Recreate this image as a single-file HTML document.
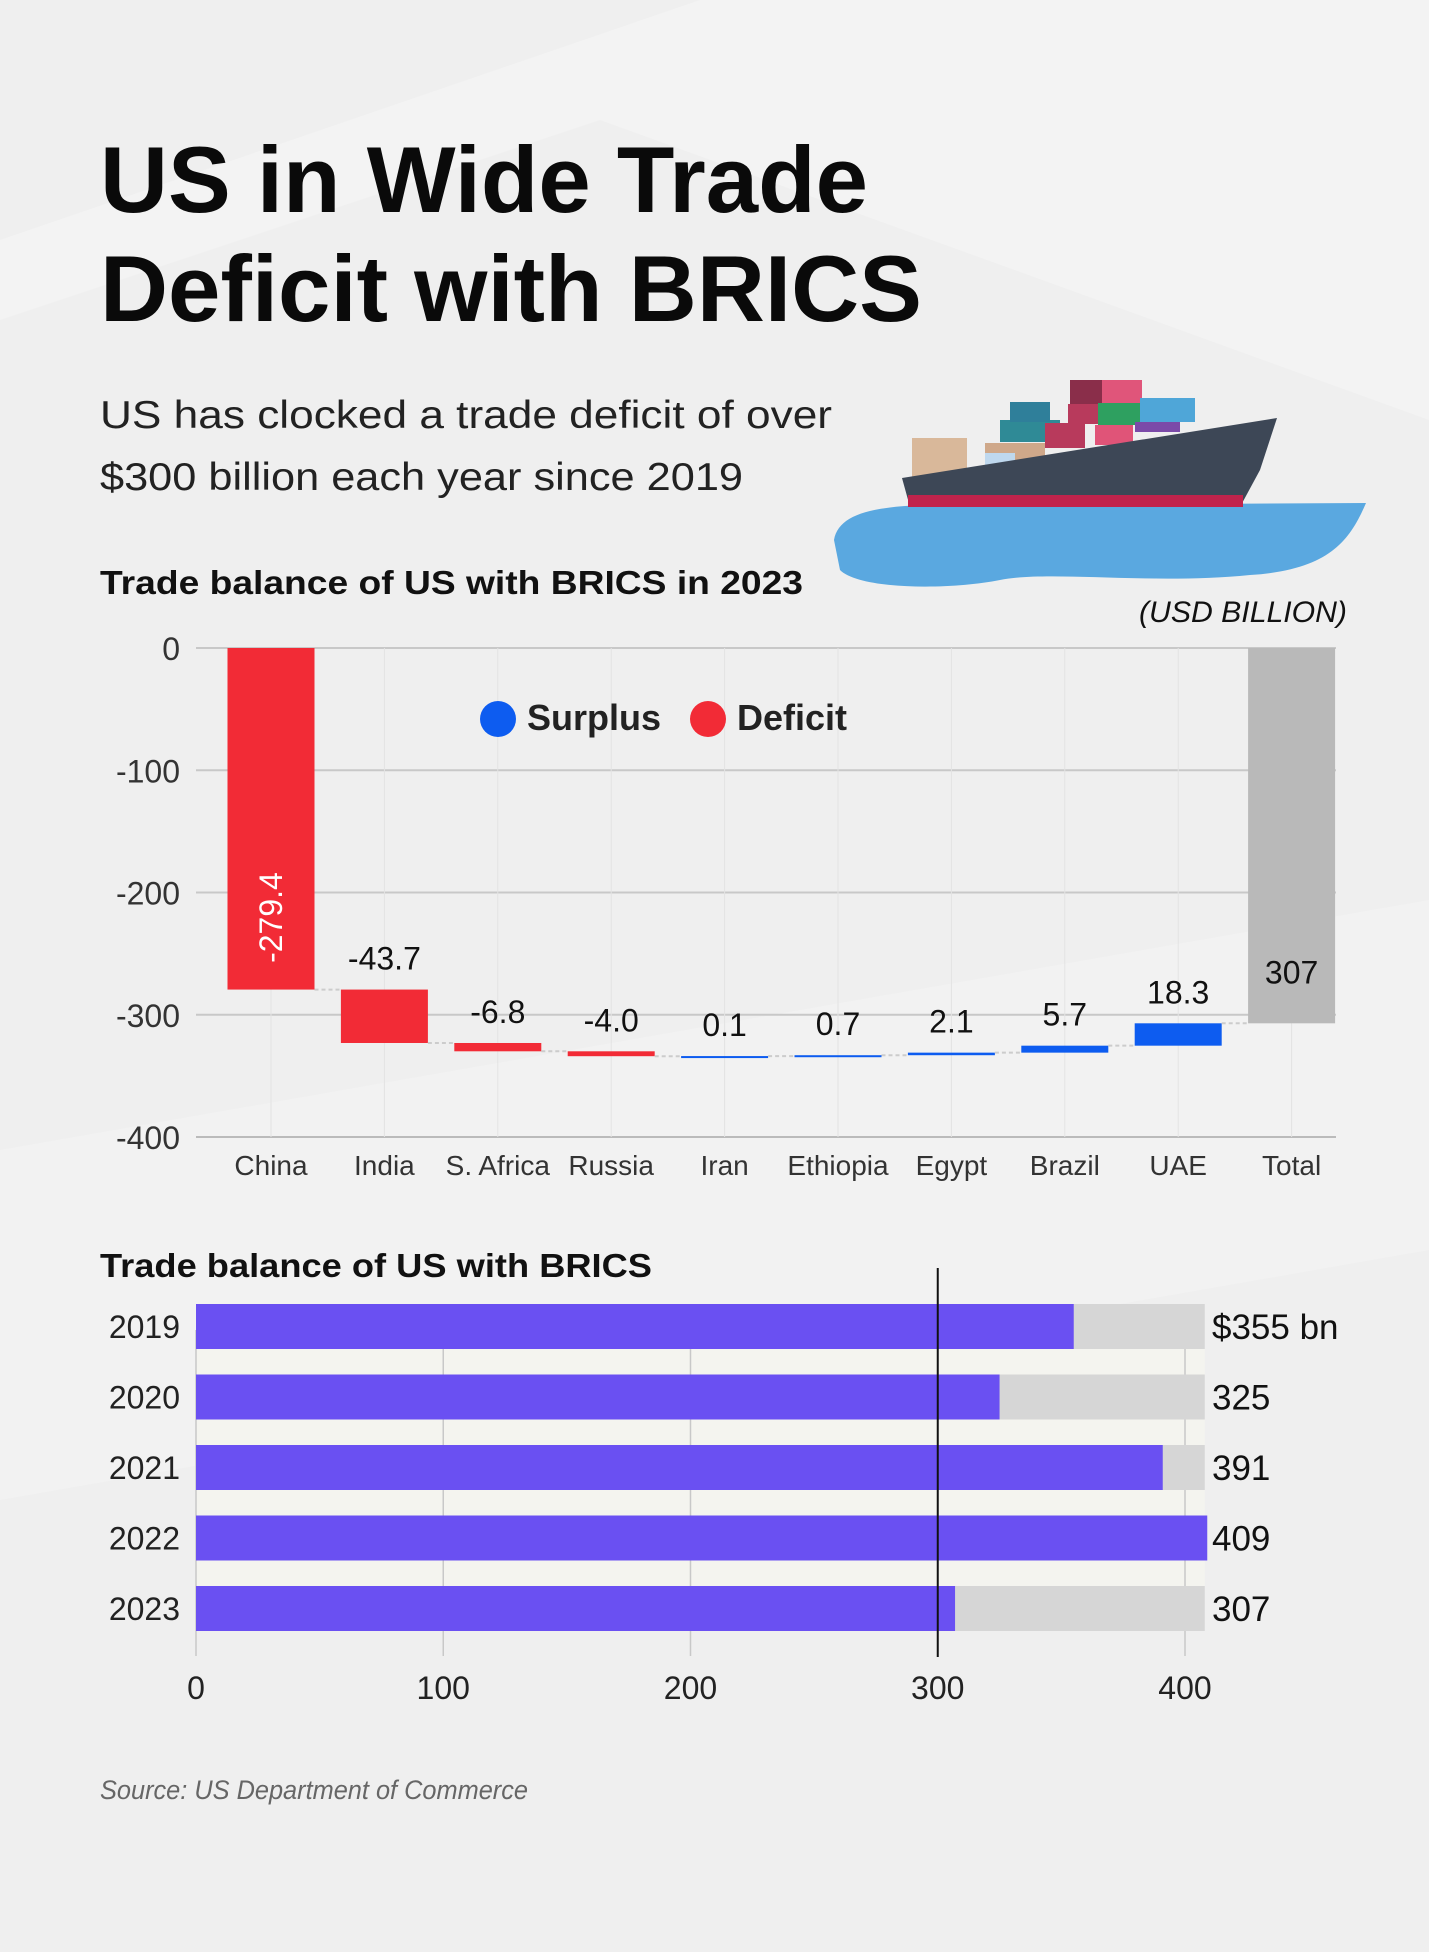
<!DOCTYPE html>
<html><head><meta charset="utf-8"><style>
html,body{margin:0;padding:0;background:#efefef;}
svg{display:block;font-family:"Liberation Sans",sans-serif;}
</style></head><body>
<svg id="root" width="1429" height="1952" viewBox="0 0 1429 1952" xmlns="http://www.w3.org/2000/svg">
<rect width="1429" height="1952" fill="#efefef"/>
<polygon points="0,240 700,0 1429,0 1429,420 600,120 0,320" fill="#f3f3f3"/>
<polygon points="0,1150 1429,900 1429,1250 0,1500" fill="#f2f2f2"/>
<text x="100" y="212" font-size="94" font-weight="bold" fill="#0a0a0a" textLength="768" lengthAdjust="spacingAndGlyphs">US in Wide Trade</text>
<text x="100" y="321" font-size="94" font-weight="bold" fill="#0a0a0a" textLength="822" lengthAdjust="spacingAndGlyphs">Deficit with BRICS</text>
<text x="100" y="428" font-size="39" fill="#222" textLength="732" lengthAdjust="spacingAndGlyphs">US has clocked a trade deficit of over</text>
<text x="100" y="490" font-size="39" fill="#222" textLength="643" lengthAdjust="spacingAndGlyphs">$300 billion each year since 2019</text>
<g>
<path d="M834,540 C840,505 900,503 1000,505 L1366,503 C1350,540 1330,570 1250,575 C1150,585 1050,570 1000,580 C950,590 860,590 840,570 Z" fill="#5aa8e0"/>
<g transform="translate(0,18)">
<rect x="912" y="420" width="55" height="50" fill="#d9b89a"/>
<rect x="985" y="425" width="60" height="45" fill="#cfa88a"/>
<rect x="985" y="435" width="30" height="18" fill="#bfd8ee"/>
<rect x="1000" y="402" width="60" height="22" fill="#2f8a96"/>
<rect x="1010" y="384" width="40" height="20" fill="#2f7f9a"/>
<rect x="1045" y="405" width="40" height="25" fill="#b83a5c"/>
<rect x="1070" y="362" width="32" height="26" fill="#8a2e4a"/>
<rect x="1102" y="362" width="40" height="24" fill="#e0557a"/>
<rect x="1068" y="386" width="30" height="20" fill="#b83a5c"/>
<rect x="1098" y="385" width="45" height="22" fill="#2ea060"/>
<rect x="1095" y="407" width="38" height="20" fill="#e05478"/>
<rect x="1140" y="380" width="55" height="24" fill="#4fa6d8"/>
<rect x="1135" y="404" width="45" height="10" fill="#7b4aa8"/>
</g>
<path d="M902,478 L1277,418 L1260,470 L1240,507 L910,507 Z" fill="#3d4756"/>
<rect x="908" y="495" width="335" height="12" fill="#c0234c"/>
</g>
<text x="100" y="594" font-size="33" font-weight="bold" fill="#111" textLength="703" lengthAdjust="spacingAndGlyphs">Trade balance of US with BRICS in 2023</text>
<text x="1347" y="622" font-size="30" font-style="italic" fill="#111" text-anchor="end" textLength="208" lengthAdjust="spacingAndGlyphs">(USD BILLION)</text>
<g id="wf"></g>
<g>
<circle cx="498" cy="719" r="18" fill="#0d5cf0"/>
<text x="527" y="730" font-size="36" font-weight="bold" fill="#222">Surplus</text>
<circle cx="708" cy="719" r="18" fill="#f22b36"/>
<text x="737" y="730" font-size="36" font-weight="bold" fill="#222">Deficit</text>
</g>
<text x="100" y="1277" font-size="33" font-weight="bold" fill="#111" textLength="552" lengthAdjust="spacingAndGlyphs">Trade balance of US with BRICS</text>
<g id="hb"></g>
<text x="100" y="1799" font-size="27" font-style="italic" fill="#666" textLength="428" lengthAdjust="spacingAndGlyphs">Source: US Department of Commerce</text>
</svg>
<script>
var countries = ["China","India","S. Africa","Russia","Iran","Ethiopia","Egypt","Brazil","UAE","Total"];
var balances = [-279.4,-43.7,-6.8,-4.0,0.1,0.7,2.1,5.7,18.3];
var balanceLabels = ["-279.4","-43.7","-6.8","-4.0","0.1","0.7","2.1","5.7","18.3","307"];
var wfTicks = [0,-100,-200,-300,-400];
var years = ["2019","2020","2021","2022","2023"];
var deficits = [355,325,391,409,307];
var deficitLabels = ["$355 bn","325","391","409","307"];
var xTicks = [0,100,200,300,400];
var trackMax = 408;

var NS="http://www.w3.org/2000/svg";
function mk(parent,tag,attrs,txt){var e=document.createElementNS(NS,tag);for(var k in attrs)e.setAttribute(k,attrs[k]);if(txt!==undefined)e.textContent=txt;parent.appendChild(e);return e;}

var wf=document.getElementById('wf');
function yW(v){return 648+(-v)*(1137-648)/400;}
function xW(i){return 271+113.4*i;}
var bw=87;
wfTicks.forEach(function(t){
  var l=mk(wf,'line',{x1:196,x2:1336,y1:yW(t),y2:yW(t),stroke:t===-400?'#bbb':'#c8c8c8','stroke-width':2});
  
  
  var tx=mk(wf,'text',{x:180,y:yW(t)+12,'font-size':32,fill:'#333','text-anchor':'end'},String(t));
  
  
});
countries.forEach(function(c,i){
  var g=mk(wf,'line',{x1:xW(i),x2:xW(i),y1:648,y2:1137,stroke:'#e3e3e3','stroke-width':1});
  
  
  var tx=mk(wf,'text',{x:xW(i),y:1175,'font-size':28,fill:'#333','text-anchor':'middle'},c);
  
  
});
var cum=0;
balances.forEach(function(v,i){
  var a=cum,b=cum+v;cum=b;
  var top=Math.min(yW(a),yW(b)),h=Math.max(Math.abs(yW(a)-yW(b)),2);
  var r=mk(wf,'rect',{x:xW(i)-bw/2,y:top,width:bw,height:h,fill:v<0?'#f22b36':'#0d5cf0'});
  
  
  var cn=mk(wf,'line',{x1:xW(i)+bw/2,x2:xW(i+1)-bw/2,y1:yW(b),y2:yW(b),stroke:'#ccc','stroke-width':2,'stroke-dasharray':'4,3'});
  
  
  var lbl;
  if(i===0){
    lbl=mk(wf,'text',{x:0,y:0,'font-size':32,fill:'#fff','text-anchor':'middle',transform:'translate('+(xW(i)+11)+','+(yW(b)-72)+') rotate(-90)'},balanceLabels[i]);
  } else {
    lbl=mk(wf,'text',{x:xW(i),y:top-20,'font-size':32,fill:'#111','text-anchor':'middle'},balanceLabels[i]);
  }
  
  
});
var tot=mk(wf,'rect',{x:xW(9)-bw/2,y:yW(0),width:bw,height:yW(cum)-yW(0),fill:'#b9b9b9'});


var tl=mk(wf,'text',{x:xW(9),y:yW(cum)-40,'font-size':32,fill:'#111','text-anchor':'middle'},balanceLabels[9]);



var hb=document.getElementById('hb');
function xH(v){return 196+v*(1185-196)/400;}
function yH(i){return 1304+70.5*i;}
var bh=45;
mk(hb,'rect',{x:196,y:1304,width:xH(trackMax)-196,height:yH(4)+bh-1304,fill:'#f4f4ef'});
xTicks.forEach(function(t){
  var l=mk(hb,'line',{x1:xH(t),x2:xH(t),y1:1330,y2:1656,stroke:'#c8c8c8','stroke-width':1.5});
  
  
  var tx=mk(hb,'text',{x:xH(t),y:1699,'font-size':32,fill:'#222','text-anchor':'middle'},String(t));
  
  
});
years.forEach(function(y,i){
  var tr=mk(hb,'rect',{x:196,y:yH(i),width:xH(trackMax)-196,height:bh,fill:'#d6d6d6'});
  
  
  var r=mk(hb,'rect',{x:196,y:yH(i),width:xH(deficits[i])-196,height:bh,fill:'#6a50f2'});
  
  
  var yl=mk(hb,'text',{x:180,y:yH(i)+34,'font-size':32,fill:'#222','text-anchor':'end'},y);
  
  
  var vl=mk(hb,'text',{x:1212,y:yH(i)+35,'font-size':35,fill:'#111'},deficitLabels[i]);
  
  
});
var ref=mk(hb,'line',{x1:xH(300),x2:xH(300),y1:1268,y2:1657,stroke:'#111','stroke-width':2});


</script>
</body></html>
